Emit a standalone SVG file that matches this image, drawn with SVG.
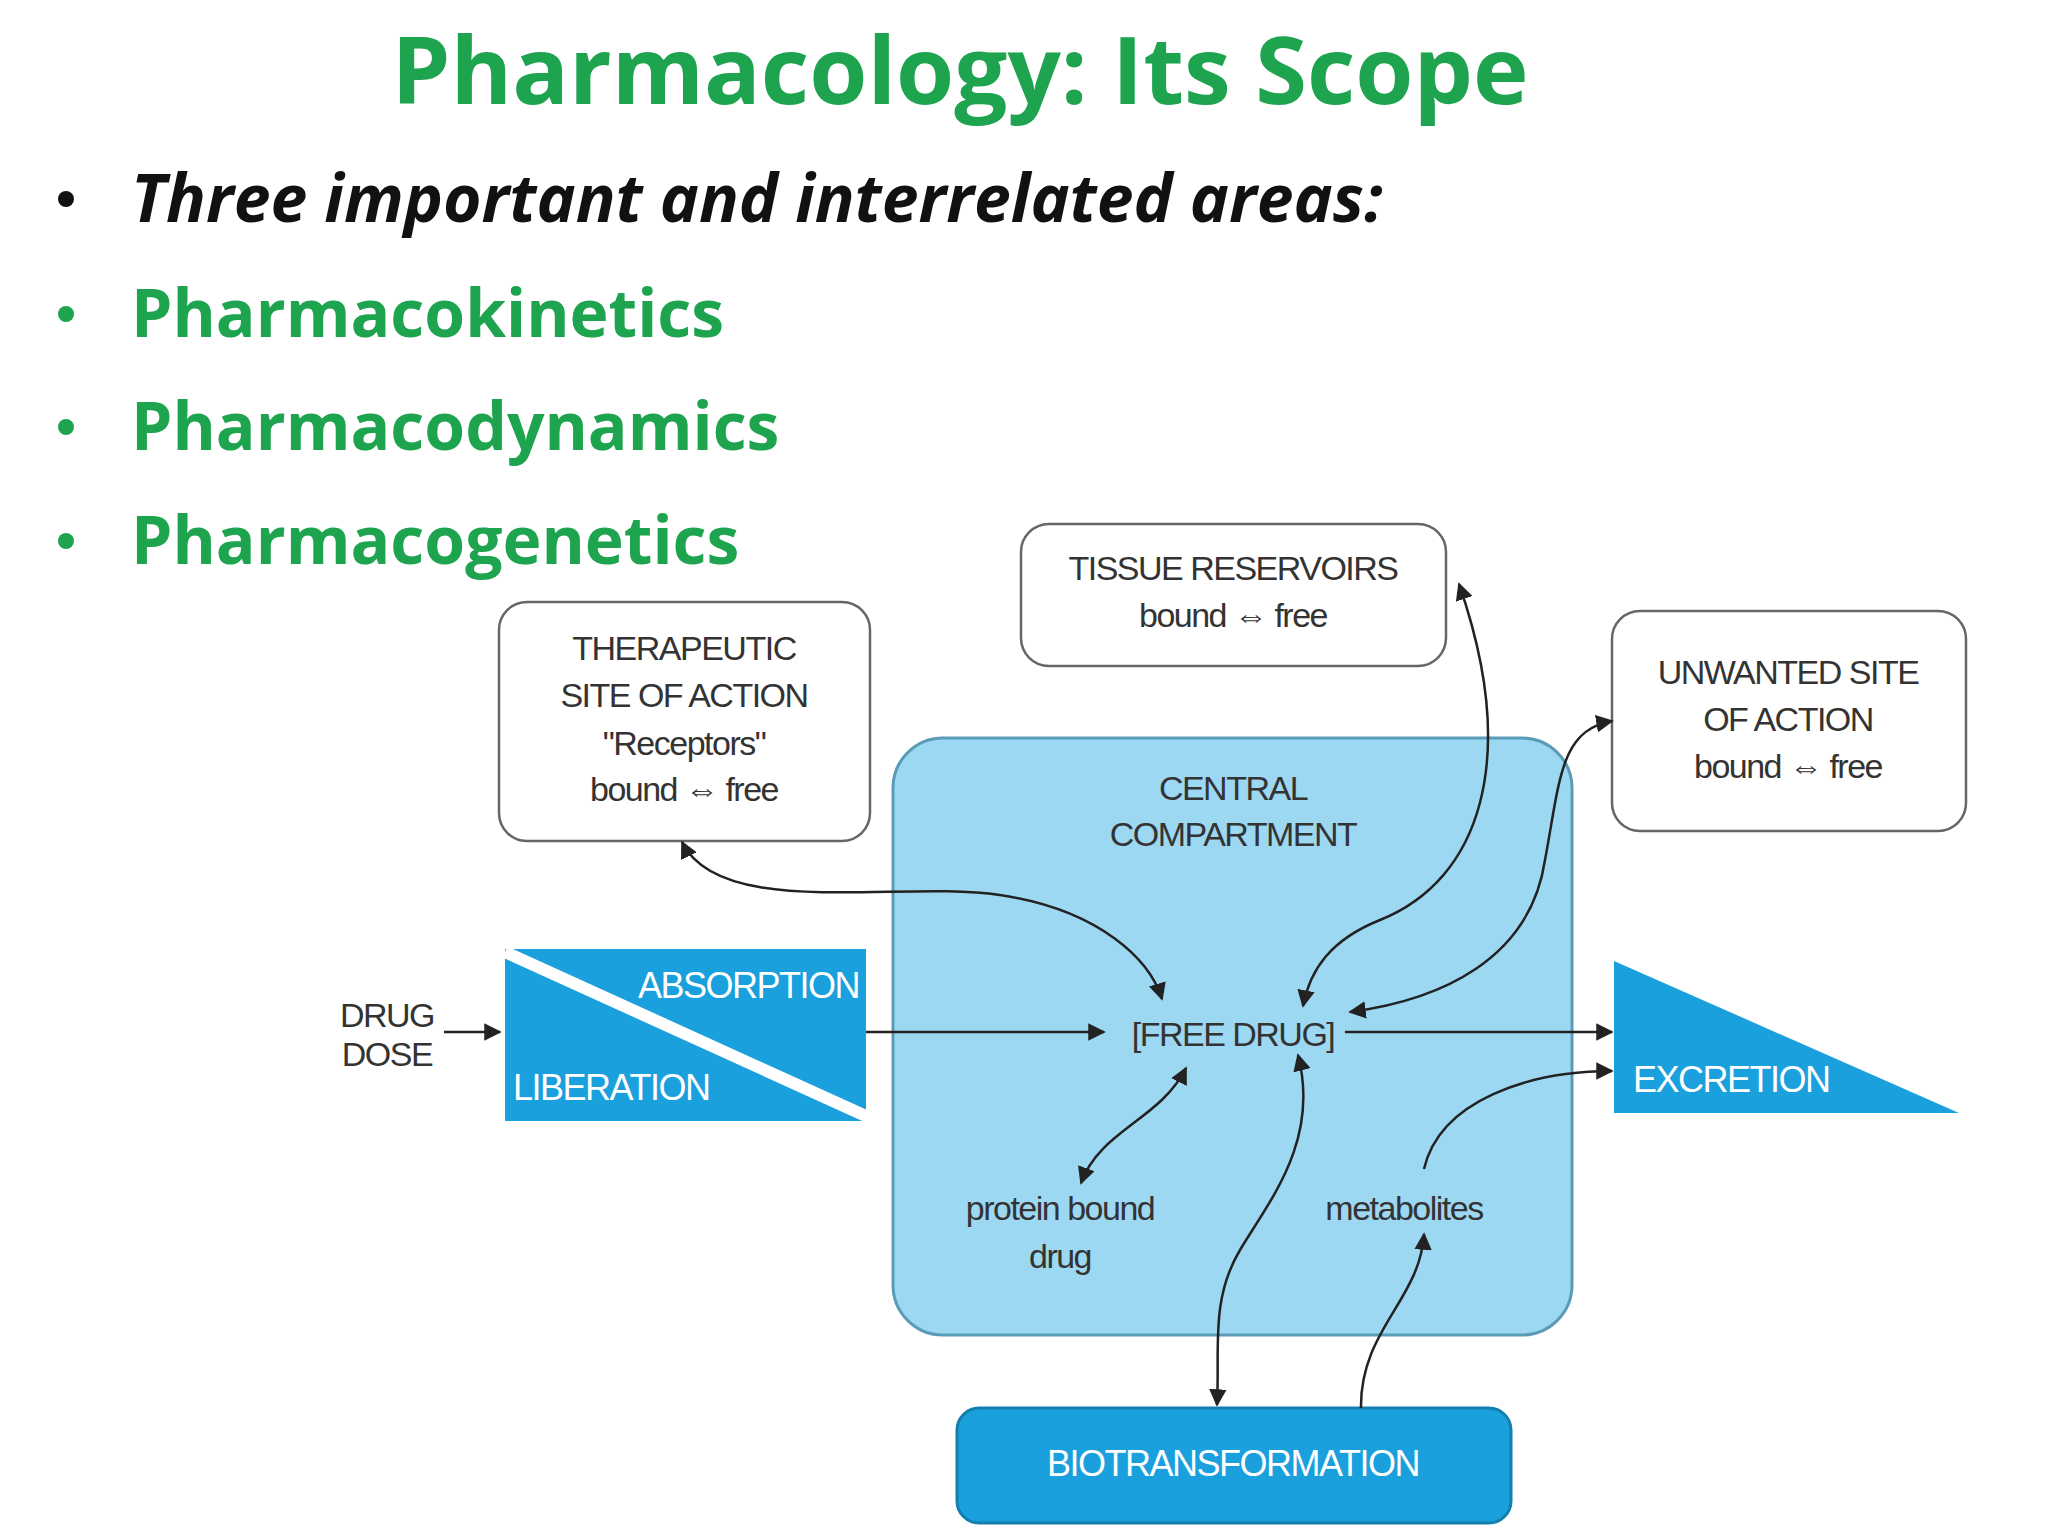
<svg xmlns="http://www.w3.org/2000/svg" width="2048" height="1536" viewBox="0 0 2048 1536">
<defs>
<marker id="ah" viewBox="0 0 10 10" refX="9" refY="5" markerWidth="7" markerHeight="7" orient="auto-start-reverse"><path d="M0,0 L10,5 L0,10 z" fill="#222"/></marker>
<style>
.t{font-family:"Open Sans","Liberation Sans",sans-serif;font-weight:bold}
.g{fill:#1ea34f}
.lb{font-family:"Liberation Sans",Arial,sans-serif;font-size:34px;fill:#333;text-anchor:middle;letter-spacing:-1.5px}
.wl{font-family:"Liberation Sans",Arial,sans-serif;font-size:36px;fill:#fff;letter-spacing:-1.5px}
.box{fill:#fff;stroke:#666;stroke-width:2.5}
.c{fill:none;stroke:#222;stroke-width:2.5}
</style>
</defs>
<rect width="2048" height="1536" fill="#fff"/>
<text class="t g" x="960" y="104" font-size="94" text-anchor="middle">Pharmacology: Its Scope</text>
<g class="t" font-size="66">
<circle cx="66" cy="199" r="8" fill="#111"/>
<text x="131" y="222" font-style="italic" fill="#111">Three important and interrelated areas:</text>
<circle cx="66" cy="314" r="8" fill="#1ea34f"/>
<text class="g" x="131" y="337">Pharmacokinetics</text>
<circle cx="66" cy="427" r="8" fill="#1ea34f"/>
<text class="g" x="131" y="450">Pharmacodynamics</text>
<circle cx="66" cy="541" r="8" fill="#1ea34f"/>
<text class="g" x="131" y="564">Pharmacogenetics</text>
</g>
<g id="central"><rect x="893" y="738" width="679" height="597" rx="50" fill="#9dd8f3" stroke="#5a9bb8" stroke-width="3"/>
<text class="lb" x="1233" y="800">CENTRAL</text><text class="lb" x="1233" y="846">COMPARTMENT</text></g>
<g id="therapeutic"><rect class="box" x="499" y="602" width="371" height="239" rx="28"/>
<text class="lb" x="684" y="660">THERAPEUTIC</text><text class="lb" x="684" y="707">SITE OF ACTION</text><text class="lb" x="684" y="755">"Receptors"</text><text class="lb" x="684" y="801">bound ⇔ free</text></g>
<g id="tissue"><rect class="box" x="1021" y="524" width="425" height="142" rx="28"/>
<text class="lb" x="1233" y="580">TISSUE RESERVOIRS</text><text class="lb" x="1233" y="627">bound ⇔ free</text></g>
<g id="unwanted"><rect class="box" x="1612" y="611" width="354" height="220" rx="28"/>
<text class="lb" x="1788" y="684">UNWANTED SITE</text><text class="lb" x="1788" y="731">OF ACTION</text><text class="lb" x="1788" y="778">bound ⇔ free</text></g>
<g id="absorption"><rect x="505" y="949" width="361" height="172" fill="#1aa0dc"/>
<line x1="505" y1="952" x2="868" y2="1117" stroke="#fff" stroke-width="12"/>
<text class="wl" x="859" y="998" text-anchor="end">ABSORPTION</text><text class="wl" x="513" y="1100">LIBERATION</text></g>
<g id="excretion"><polygon points="1614,961 1614,1113 1959,1113" fill="#1aa0dc"/><text class="wl" x="1633" y="1092">EXCRETION</text></g>
<g id="biotransformation"><rect x="957" y="1408" width="554" height="115" rx="22" fill="#1aa0dc" stroke="#147fae" stroke-width="3"/><text class="wl" x="1233" y="1476" text-anchor="middle">BIOTRANSFORMATION</text></g>
<g id="dose"><text class="lb" x="387" y="1027">DRUG</text><text class="lb" x="387" y="1066">DOSE</text></g>
<g id="freedrug"><text class="lb" x="1233" y="1046">[FREE DRUG]</text></g>
<g id="protein"><text class="lb" x="1060" y="1220">protein bound</text><text class="lb" x="1060" y="1268">drug</text></g>
<g id="metabolites"><text class="lb" x="1404" y="1220">metabolites</text></g>
<g id="connectors">
<line class="c" x1="444" y1="1032" x2="500" y2="1032" marker-end="url(#ah)"/>
<line class="c" x1="866" y1="1032" x2="1104" y2="1032" marker-end="url(#ah)"/>
<line class="c" x1="1345" y1="1032" x2="1612" y2="1032" marker-end="url(#ah)"/>
<path class="c" d="M1424,1169 C1440,1100 1530,1071 1612,1071" marker-end="url(#ah)"/>
<path class="c" d="M1186,1068 C1160,1120 1100,1130 1081,1183" marker-start="url(#ah)" marker-end="url(#ah)"/>
<path class="c" d="M682,842 C720,920 900,880 1000,895 C1100,910 1150,960 1162,999" marker-start="url(#ah)" marker-end="url(#ah)"/>
<path class="c" d="M1459,584 C1520,760 1480,880 1380,920 C1330,940 1310,970 1303,1006" marker-start="url(#ah)" marker-end="url(#ah)"/>
<path class="c" d="M1612,721 C1560,730 1560,780 1545,860 C1530,960 1440,1000 1350,1012" marker-start="url(#ah)" marker-end="url(#ah)"/>
<path class="c" d="M1298,1055 C1320,1140 1270,1200 1240,1250 C1210,1300 1220,1350 1217,1405" marker-start="url(#ah)" marker-end="url(#ah)"/>
<path class="c" d="M1361,1408 C1360,1330 1420,1300 1424,1234" marker-end="url(#ah)"/>
</g>
</svg>
